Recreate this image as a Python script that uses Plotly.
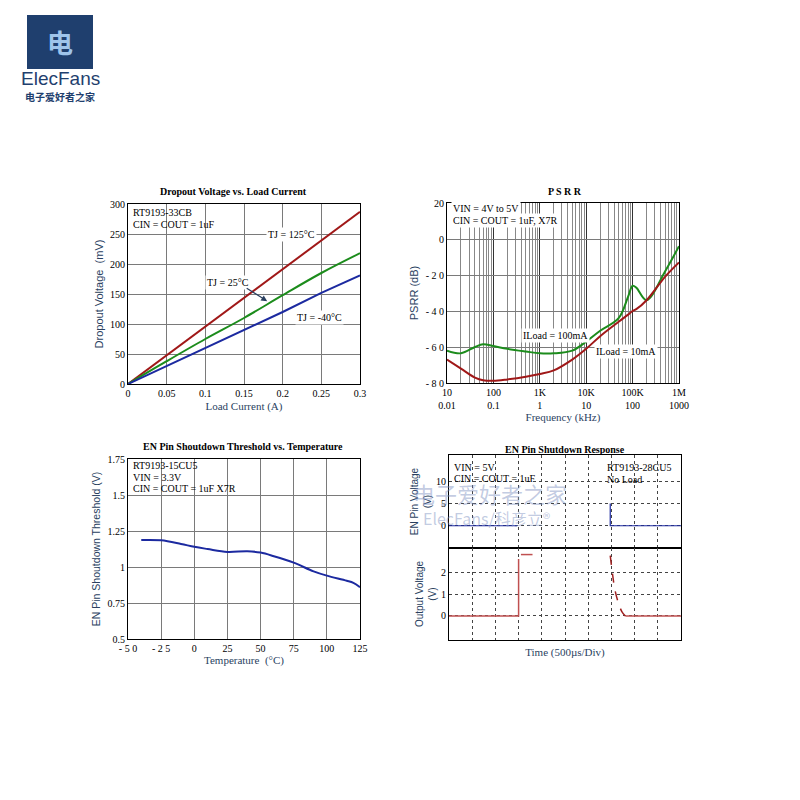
import plotly.graph_objects as go

W = 800
OFF = 8  # page body margin
# ---- data ----
load_i = [0, 0.05, 0.1, 0.15, 0.2, 0.25, 0.3]
drop_125 = [0, 48, 96, 143, 191, 239, 287]
drop_25 = [0, 38, 75, 110, 148, 185, 218]
drop_m40 = [0, 30, 60, 90, 120, 152, 181]

freq = [10, 20, 40, 60, 100, 200, 500, 1000, 2000, 5000, 10000, 20000, 50000, 80000, 100000, 120000, 200000, 500000, 1000000]
psrr_100 = [-62, -63.5, -60, -58.5, -59.5, -61, -62.5, -63.5, -63.5, -62, -57, -51, -44, -32, -26, -27, -34, -18, -4]
psrr_10 = [-67, -72, -77, -78.5, -78.8, -78, -76.5, -75, -73, -67, -61, -54, -46, -42, -40, -39, -34, -21, -13]

temp = [-40, -25, -10, 0, 10, 25, 40, 50, 60, 75, 90, 100, 115, 120, 125]
en_th = [1.187, 1.185, 1.16, 1.14, 1.125, 1.105, 1.11, 1.10, 1.075, 1.03, 0.97, 0.94, 0.905, 0.89, 0.86]

t_en = [0, 2.93]
v_en = [0, 0]
t_en2 = [6.95, 6.95, 6.97, 10]
v_en2 = [5, 0, 0, 0]
t_out = [0, 3.0, 3.0]
v_out = [0, 0, 2.6]
t_out_top = [3.1, 3.6]
v_out_top = [2.8, 2.8]
t_dec = [6.95, 7.05, 7.15, 7.3, 7.45, 7.6]
v_dec = [2.75, 1.9, 1.2, 0.6, 0.2, 0]
t_tail = [7.6, 10]
v_tail = [0, 0]

RED, GRN, BLU = "#a01818", "#1c8c1c", "#1c2aa0"
fig = go.Figure()

def px(x0, x1):
    return [(x0 - OFF) / W, (x1 - OFF) / W]

def py(y0, y1):
    return [1 - (y1 - OFF) / W, 1 - (y0 - OFF) / W]

ax_common = dict(showline=True, linecolor="black", mirror=True, ticks="", zeroline=False, automargin=False,
                 gridcolor="#7a7a7a", gridwidth=1, tickfont=dict(family="Liberation Serif", size=10, color="black"))

def line(x, y, color, xa, ya, width=2, **kw):
    fig.add_trace(go.Scatter(x=x, y=y, mode="lines", line=dict(color=color, width=width, **kw), xaxis=xa, yaxis=ya))

lay = {}
# panel 1
lay["xaxis"] = dict(ax_common, domain=px(128, 360), range=[0, 0.3], dtick=0.05, anchor="y",
                    title=dict(text="Load Current (A)", font=dict(family="Liberation Serif", size=11), standoff=4))
lay["yaxis"] = dict(ax_common, domain=py(204, 384), range=[0, 300], dtick=50, anchor="x",
                    title=dict(text="Dropout Voltage  (mV)", font=dict(family="Liberation Sans", size=11), standoff=4))
line(load_i, drop_125, RED, "x", "y")
line(load_i, drop_25, GRN, "x", "y", shape="spline")
line(load_i, drop_m40, BLU, "x", "y")
# panel 2
lay["xaxis2"] = dict(ax_common, domain=px(447, 679), type="log", range=[1, 6], anchor="y2",
                     tickvals=[10, 100, 1000, 10000, 100000, 1000000], ticktext=["10<br>0.01", "100<br>0.1", "1K<br>1", "10K<br>10", "100K<br>100", "1M<br>1000"],
                     gridcolor="#333", minor=dict(showgrid=True, gridcolor="#888", dtick="D1"),
                     title=dict(text="Frequency (kHz)", font=dict(family="Liberation Serif", size=11), standoff=2))
lay["yaxis2"] = dict(ax_common, domain=py(203, 383), range=[-80, 20], dtick=20, anchor="x2",
                     tickvals=[20, 0, -20, -40, -60, -80], ticktext=["20", "0", "- 2 0", "- 4 0", "- 6 0", "- 8 0"],
                     title=dict(text="PSRR (dB)", font=dict(family="Liberation Sans", size=11), standoff=4))
line(freq, psrr_100, GRN, "x2", "y2", shape="spline")
line(freq, psrr_10, RED, "x2", "y2", shape="spline")
# panel 3
lay["xaxis3"] = dict(ax_common, domain=px(128, 360), range=[-50, 125], dtick=25, anchor="y3",
                     tickvals=[-50, -25, 0, 25, 50, 75, 100, 125], ticktext=["- 5 0", "- 2 5", "0", "25", "50", "75", "100", "125"],
                     title=dict(text="Temperature  (°C)", font=dict(family="Liberation Serif", size=11), standoff=2))
lay["yaxis3"] = dict(ax_common, domain=py(459, 639), range=[0.5, 1.75], dtick=0.25, anchor="x3",
                     tickvals=[0.5, 0.75, 1, 1.25, 1.5, 1.75], ticktext=["0.5", "0.75", "1", "1.25", "1.5", "1.75"],
                     title=dict(text="EN Pin Shoutdown Threshold (V)", font=dict(family="Liberation Sans", size=10.5), standoff=4))
line(temp, en_th, BLU, "x3", "y3", shape="spline")
# panel 4 (scope)
scope = dict(showline=True, linecolor="black", mirror=True, zeroline=False, ticks="", automargin=False,
             gridcolor="#444", griddash="dot", tickfont=dict(family="Liberation Serif", size=10, color="black"))
lay["xaxis4"] = dict(scope, domain=px(449, 681), range=[0, 10], dtick=1, anchor="y4", showticklabels=False)
lay["yaxis4"] = dict(scope, domain=py(455, 548), range=[-5, 15.9], tickvals=[0, 5, 10], anchor="x4",
                     title=dict(text="EN Pin Voltage<br>(V)", font=dict(family="Liberation Sans", size=10), standoff=2))
lay["xaxis5"] = dict(scope, domain=px(449, 681), range=[0, 10], dtick=1, anchor="y5", showticklabels=False,
                     title=dict(text="Time (500µs/Div)", font=dict(family="Liberation Serif", size=11), standoff=8))
lay["yaxis5"] = dict(scope, domain=py(548, 640), range=[-1.1, 3.1], tickvals=[0, 1, 2], anchor="x5",
                     title=dict(text="Output Voltage<br>(V)", font=dict(family="Liberation Sans", size=10), standoff=2))
line(t_en, v_en, BLU, "x4", "y4", width=1.2)
line(t_en2, v_en2, BLU, "x4", "y4", width=1.2)
line(t_out, v_out, "#c05050", "x5", "y5", width=1.5)
line(t_out_top, v_out_top, "#c05050", "x5", "y5", width=1.5)
line(t_dec, v_dec, "#a02020", "x5", "y5", width=1.5, dash="dash", shape="spline")
line(t_tail, v_tail, "#c05050", "x5", "y5", width=1.5)

def txt(x, y, s, size=10, fam="Liberation Serif", anchor="left", bold=False, color="black", bg=None):
    if bold:
        s = "<b>" + s + "</b>"
    fig.add_annotation(x=(x - OFF) / W, y=1 - (y - OFF) / W, xref="paper", yref="paper", text=s, showarrow=False,
                       xanchor=anchor, yanchor="middle", bgcolor=bg,
                       font=dict(family=fam, size=size, color=color))

txt(234, 191, "Dropout Voltage vs. Load Current", anchor="center", bold=True)
txt(565, 191, "P S R R", anchor="center", bold=True)
txt(243, 447, "EN Pin Shoutdown Threshold vs. Temperature", anchor="center", bold=True)
txt(565, 449, "EN Pin Shutdown Response", anchor="center", bold=True)
txt(131, 212, "RT9193-33CB")
txt(131, 224, "CIN = COUT = 1uF")
txt(266, 235, "TJ = 125°C", bg="white")
txt(205, 282, "TJ = 25°C", bg="white")
txt(295, 317, "TJ = -40°C", bg="white")
fig.add_annotation(x=0.2 - 0.02, y=138, xref="x", yref="y", ax=-22, ay=-14, showarrow=True, arrowhead=2,
                   arrowsize=1, arrowwidth=1.2, text="")
txt(451, 208, "VIN = 4V to 5V", bg="white")
txt(451, 220, "CIN = COUT = 1uF, X7R", bg="white")
txt(521, 336, "ILoad = 100mA", bg="white")
txt(594, 352, "ILoad = 10mA", bg="white")
txt(131, 465, "RT9193-15CU5")
txt(131, 477, "VIN = 3.3V")
txt(131, 489, "CIN = COUT = 1uF X7R")
txt(452, 467, "VIN = 5V")
txt(452, 478, "CIN = COUT = 1uF")
txt(605, 467, "RT9193-28CU5")
txt(605, 479, "No Load")

# watermark
txt(490, 493, "电子爱好者之家", size=22, fam="Noto Sans CJK SC", anchor="center", color="rgba(120,140,190,0.45)")
txt(487, 518, "ElecFans/科彦立®", size=16, fam="Noto Sans CJK SC", anchor="center", color="rgba(120,140,190,0.45)")

# logo
fig.add_shape(type="rect", xref="paper", yref="paper", x0=(28 - OFF) / W, x1=(92 - OFF) / W,
              y0=1 - (68 - OFF) / W, y1=1 - (16 - OFF) / W,
              fillcolor="#1f3f6e", line=dict(color="#1f3f6e"))
txt(60, 42, "电", size=26, fam="Noto Sans CJK SC", anchor="center", color="#9fc4ea", bold=True)
txt(60, 78, "ElecFans", size=19, fam="Liberation Sans", anchor="center", color="#1f3f6e")
txt(60, 97, "电子爱好者之家", size=10, fam="Noto Sans CJK SC", anchor="center", color="#1f3f6e", bold=True)

fig.update_layout(lay)
fig.update_layout(width=W, height=W, margin=dict(l=0, r=0, t=0, b=0), showlegend=False,
                  paper_bgcolor="white", plot_bgcolor="white")
fig.write_html("out.html")
